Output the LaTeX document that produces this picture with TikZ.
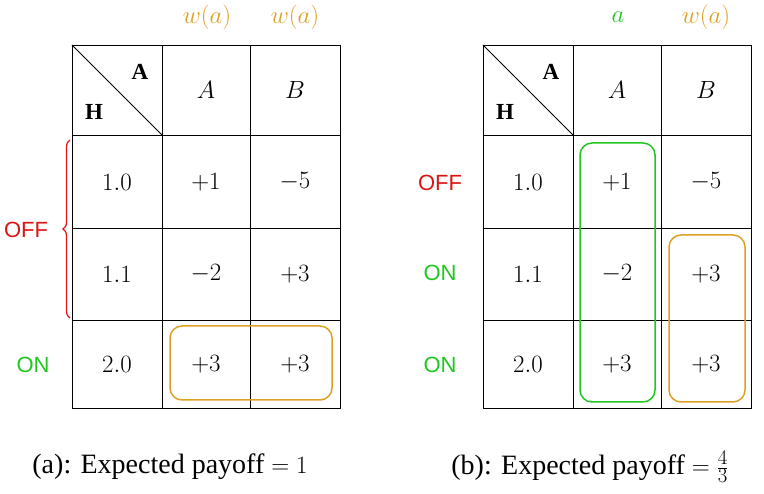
\documentclass[tikz,border=0pt]{standalone}
\usepackage{fontspec}
\setmainfont{Liberation Serif}
\newfontfamily\lab{Liberation Sans}
\usetikzlibrary{decorations.pathreplacing}
\definecolor{org}{RGB}{222,160,35}
\definecolor{grn}{RGB}{30,200,30}
\definecolor{rd}{RGB}{220,20,20}
\begin{document}
\begin{tikzpicture}[x=1pt,y=-1pt,
  txt/.style={font=\fontsize{25}{30}\selectfont},
  captxt/.style={font=\fontsize{28}{32}\selectfont},
  hd/.style={font=\fontsize{23}{28}\selectfont\bfseries},
  onl/.style={font=\lab\fontsize{22}{26}\selectfont,text=grn},
  offl/.style={font=\lab\fontsize{22}{26}\selectfont,text=rd},
  grid/.style={line width=0.8pt},
  box/.style={rounded corners=12pt,line width=1.5pt}]
\useasboundingbox (0,0) rectangle (764,494);
\foreach \ox/\nm in {72/L,483/R}{
  \begin{scope}[xshift=\ox]
  \draw[grid] (0,45) rectangle (268,408);
  \foreach \x in {90,178} \draw[grid] (\x,45) -- (\x,408);
  \foreach \y in {135,228,320} \draw[grid] (0,\y) -- (268,\y);
  \draw[grid] (0,45) -- (90,135);
  \node[hd] (\nm a) at (68,72) {A};
  \node[hd] (\nm h) at (22,112) {H};
  \node[txt] (\nm cA) at (134,90) {$A$};
  \node[txt] (\nm cB) at (223,90) {$B$};
  \node[txt] (\nm r1) at (45,182) {$1.0$};
  \node[txt] (\nm r2) at (45,274) {$1.1$};
  \node[txt] (\nm r3) at (45,364) {$2.0$};
  \node[txt] (\nm a1) at (134,182) {$+1$};
  \node[txt] (\nm b1) at (223,182) {$-5$};
  \node[txt] (\nm a2) at (134,274) {$-2$};
  \node[txt] (\nm b2) at (223,274) {$+3$};
  \node[txt] (\nm a3) at (134,364) {$+3$};
  \node[txt] (\nm b3) at (223,364) {$+3$};
  \end{scope}}
% left
\node[txt,text=org] (wl1) at (207,17) {$w(a)$};
\node[txt,text=org] (wl2) at (295,17) {$w(a)$};
\draw[rd,line width=1.2pt,decorate,decoration={brace,amplitude=7pt}] (70,318) -- (70,140);
\node[offl] (offL) at (26,230) {OFF};
\node[onl] (onL) at (33,365) {ON};
\draw[org,box] (170,326) rectangle (332,400);
% right
\node[txt,text=grn] (ar) at (618,17) {$a$};
\node[txt,text=org] (wr) at (706,17) {$w(a)$};
\node[offl] (offR) at (440,183) {OFF};
\node[onl] (onR1) at (440,273) {ON};
\node[onl] (onR2) at (440,365) {ON};
\draw[grn,box] (580,143) rectangle (655,402);
\draw[org,box] (669,235) rectangle (745,402);
\node[captxt] (capa) at (170,467) {(a): Expected payoff $=1$};
\node[captxt] (capb) at (590,467) {(b): Expected payoff $=\frac{4}{3}$};
\end{tikzpicture}
\end{document}
